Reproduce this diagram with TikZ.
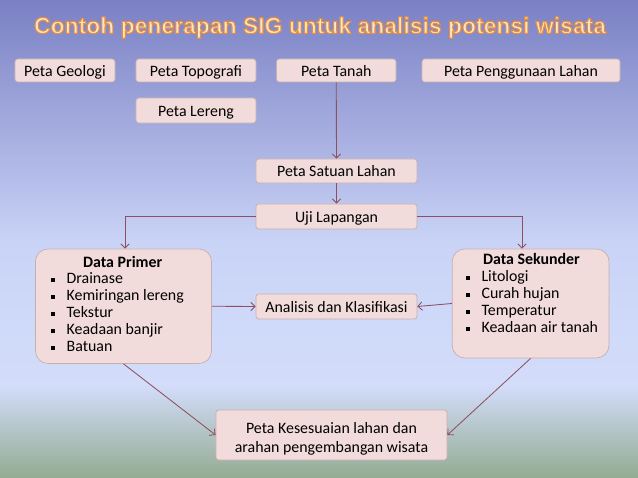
\documentclass[tikz,border=0pt]{standalone}
\usepackage{fontspec}
\setmainfont{Carlito}
\newfontfamily\titlefont{Liberation Sans}
\usepackage{xcolor}
\usepackage{tikz}
\usetikzlibrary{arrows.meta}
\usetikzlibrary{positioning}
\usetikzlibrary{calc}
\pgfdeclarelayer{bg}
\pgfsetlayers{bg,main}

\definecolor{boxfill}{HTML}{F2DCDB}
\definecolor{boxline}{HTML}{C7AEB0}
\definecolor{linkcol}{HTML}{8E4F5E}
\definecolor{skytop}{HTML}{7A80C4}
\definecolor{skymid}{HTML}{C9D3F6}
\definecolor{skylow}{HTML}{D3DDFA}
\definecolor{grass}{HTML}{93AB92}
\definecolor{titlefill}{HTML}{FDE7C4}

\tikzset{
	mapbox/.style={draw=boxline, fill=boxfill, rounded corners=2pt, line width=0.5pt, inner sep=0pt, align=center, font=\fontsize{11.3}{13.5}\selectfont, text height=9pt, text depth=1pt},
	notebox/.style={mapbox, text height=, text depth=},
	databox/.style={mapbox, rounded corners=9pt},
	item/.style={inner sep=0pt, anchor=base west, font=\fontsize{11.3}{13.5}\selectfont},
	titletext/.style={inner sep=0pt, anchor=base, font=\titlefont\bfseries\fontsize{16.3}{19}\selectfont},
	link/.style={draw=linkcol, line width=0.6pt},
	arr/.style={link, -{Straight Barb[length=3pt,width=6pt]}}
}
\newcommand\sqbullet{\rule[1.3pt]{2.8pt}{2.8pt}\hspace{8.4pt}}
\makeatletter
\newcommand\outlined[1]{\pgfsys@invoke{q 2 Tr 0.8 w 0.89 0.56 0.27 RG}#1\pgfsys@invoke{Q}}
\makeatother

\begin{document}
\begin{tikzpicture}[x=0.025cm, y=-0.025cm]
	\useasboundingbox (0,0) rectangle (638,478);
	% background
	\shade[top color=skytop, bottom color=skymid] (0,0) rectangle (638,240.5);
	\shade[top color=skymid, bottom color=skylow] (0,240) rectangle (638,385.5);
	\shade[top color=skylow, bottom color=grass] (0,385) rectangle (638,478);

	% title
	\node[titletext, text=titlefill] (title) at (320,33.5) {\outlined{Contoh penerapan SIG untuk analisis potensi wisata}};

	% input maps
	\node[mapbox, minimum width=2.5cm, minimum height=0.575cm] (geologi) at (65,70.5) {Peta Geologi};
	\node[mapbox, minimum width=3cm, minimum height=0.575cm] (topografi) at (196,70.5) {Peta Topografi};
	\node[mapbox, minimum width=2.99cm, minimum height=0.575cm] (tanah) at (336.25,70.5) {Peta Tanah};
	\node[mapbox, minimum width=4.95cm, minimum height=0.575cm] (penggunaan) at (521,70.5) {Peta Penggunaan Lahan};
	\node[mapbox, minimum width=3cm, minimum height=0.625cm] (lereng) at (196,110.5) {Peta Lereng};
	\coordinate (bus) at (0,137);
	\begin{pgfonlayer}{bg}
		\draw[link] (geologi.south) -- (geologi.south |- bus) -- (penggunaan.south |- bus) -- (penggunaan.south);
		\draw[link] (topografi.south) -- (topografi.south |- bus);
	\end{pgfonlayer}

	\node[mapbox, minimum width=4.025cm, minimum height=0.6cm] (satuan) at (336.5,171) {Peta Satuan Lahan};
	\node[mapbox, minimum width=4.025cm, minimum height=0.625cm] (uji) at (336.5,216.5) {Uji Lapangan};
	\draw[arr] (tanah) -- (satuan);
	\draw[arr] (satuan) -- (uji);

	% data boxes
	\node[databox, minimum width=4.4cm, minimum height=2.8625cm] (primer) at (123.5,306.25) {};
	\node[item, anchor=base, font=\fontsize{11.3}{13.5}\selectfont\bfseries] (primertitle) at ($(primer.north)+(-0.8,19.3)$) {Data Primer};
	\foreach \txt [count=\i] in {Drainase, Kemiringan lereng, Tekstur, Keadaan banjir, Batuan}
		\node[item] (pri\i) at ($(primer.north west)+(15.5,35.3+17*\i-17)$) {\sqbullet\txt};

	\node[databox, minimum width=3.92cm, minimum height=2.725cm] (sekunder) at (530.6,303.5) {};
	\node[item, font=\fontsize{11.3}{13.5}\selectfont\bfseries] (sekundertitle) at ($(sekunder.north west)+(31,16)$) {Data Sekunder};
	\foreach \txt [count=\i] in {Litologi, Curah hujan, Temperatur, Keadaan air tanah}
		\node[item] (sek\i) at ($(sekunder.north west)+(13.7,32.7+17*\i-17)$) {\sqbullet\txt};

	\node[mapbox, minimum width=4.025cm, minimum height=0.625cm] (analisis) at (336.5,306.5) {Analisis dan Klasifikasi};
	\node[notebox, minimum width=5.775cm, minimum height=1.25cm] (kesesuaian) at (331.5,435) {\rule{0pt}{12.7pt}Peta Kesesuaian lahan dan\\arahan pengembangan wisata};

	\draw[arr] (uji.west) -| ($(primer.north)+(1.5,0)$);
	\draw[arr] (uji.east) -| ($(sekunder.north)+(-8.6,0)$);
	\draw[arr] (primer.east) -- (analisis.west);
	\draw[arr] (sekunder.west) -- (analisis.east);
	\draw[arr] (primer.south) -- (kesesuaian.west);
	\draw[arr] (sekunder.south) -- (kesesuaian.east);
\end{tikzpicture}
\end{document}
